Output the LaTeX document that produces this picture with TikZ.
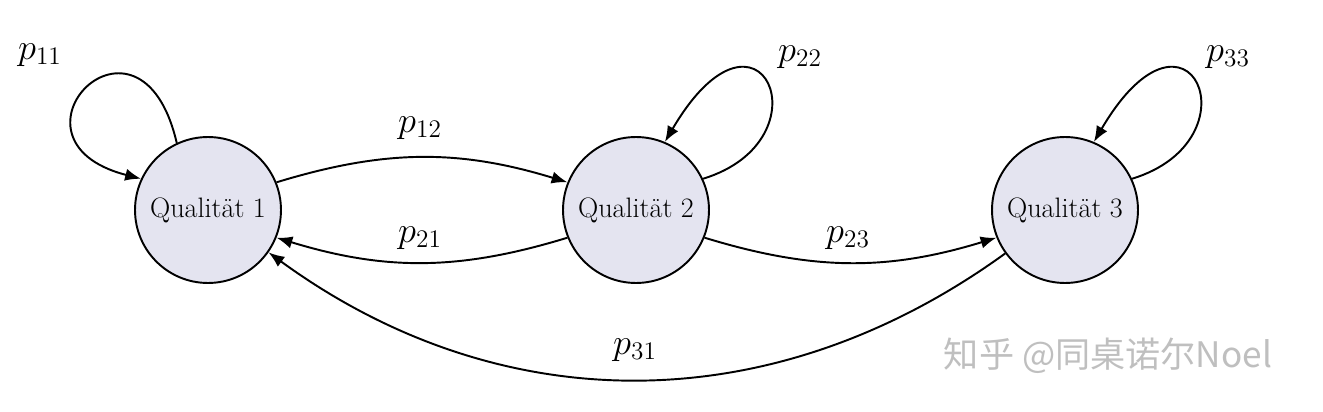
\documentclass[tikz,border=0pt]{standalone}
\usepackage{fontspec}
\newfontfamily\cjk{Noto Sans CJK SC}
\usetikzlibrary{arrows.meta}
\begin{document}
\begin{tikzpicture}[x=0.02cm,y=-0.02cm,
  st/.style={circle,draw,line width=1.1pt,fill={rgb,255:red,228;green,228;blue,240},minimum size=2.92cm,inner sep=0pt,font=\fontsize{16}{19}\selectfont},
  ed/.style={line width=1.1pt,-{Latex[length=9pt,width=7pt]}},
  lb/.style={font=\fontsize{22}{26}\selectfont}]
\useasboundingbox (0,0) rectangle (1323,412);
\node[st] (q1) at (208,210) {Qualität 1};
\node[st] (q2) at (636,210) {Qualität 2};
\node[st] (q3) at (1065,210) {Qualität 3};
\draw[ed] (q1.115) .. controls (140,-15) and (-10,140) .. (q1.155);
\draw[ed] (q2.25) .. controls (830,140) and (760,-20) .. (q2.67);
\draw[ed] (q3.25) .. controls (1259,140) and (1189,-20) .. (q3.67);
\draw[ed] (q1.22) to[bend left=17] (q2.158);
\draw[ed] (q2.202) to[bend left=17] (q1.338);
\draw[ed] (q2.338) to[bend right=17] (q3.202);
\draw[ed] (q3.216) to[bend left=36] (q1.325);
\node[lb] (l11) at (40,55) {$p_{11}$};
\node[lb] (l22) at (800,57) {$p_{22}$};
\node[lb] (l33) at (1228,57) {$p_{33}$};
\node[lb] (l12) at (420,128) {$p_{12}$};
\node[lb] (l21) at (420,238) {$p_{21}$};
\node[lb] (l23) at (848,238) {$p_{23}$};
\node[lb] (l31) at (635,350) {$p_{31}$};
\node[text=black!25,font=\cjk\fontsize{20}{24}\selectfont] (wm) at (1108,356) {知乎 @同桌诺尔Noel};
\end{tikzpicture}
\end{document}
